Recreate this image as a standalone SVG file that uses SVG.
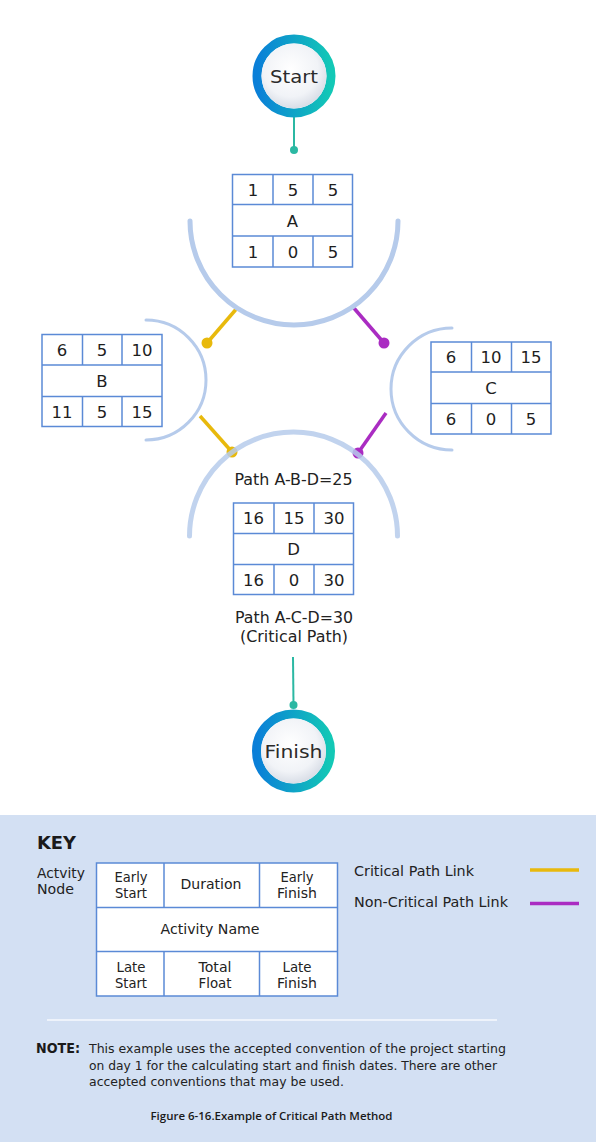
<svg xmlns="http://www.w3.org/2000/svg" width="596" height="1142" viewBox="0 0 596 1142">
<defs>
<linearGradient id="ring" x1="0" y1="0" x2="1" y2="0">
<stop offset="0" stop-color="#0a7fd8"/>
<stop offset="1" stop-color="#13c8b6"/>
</linearGradient>
<radialGradient id="face" cx="0.45" cy="0.4" r="0.6">
<stop offset="0" stop-color="#ffffff"/>
<stop offset="0.7" stop-color="#f1f3f7"/>
<stop offset="1" stop-color="#d9dee7"/>
</radialGradient>
<style>
.cell{fill:#ffffff;stroke:#5b8ad6;stroke-width:1.5}
.grid{stroke:#5b8ad6;stroke-width:1.5;fill:none}
.num{font-family:"DejaVu Sans","Open Sans",sans-serif;font-size:16.5px;fill:#1e1e1e;text-anchor:middle}
.big{stroke:#b6cbeb;stroke-width:5;fill:none;stroke-linecap:round}
.small{stroke:#b6cbeb;stroke-width:3;fill:none;stroke-linecap:round}
.crit{stroke:#e8b90c;stroke-width:3.5;fill:none}
.ncrit{stroke:#aa2cc2;stroke-width:3.5;fill:none}
.teal{stroke:#2bb8a3;stroke-width:2;fill:none}
.lbl{font-family:"DejaVu Sans","Open Sans",sans-serif;font-size:15px;fill:#222;text-anchor:middle}
.ktxt{font-family:"DejaVu Sans","Open Sans",sans-serif;font-size:13.5px;fill:#222}
.note{font-family:"DejaVu Sans","Open Sans",sans-serif;font-size:13px;fill:#222}
.kc{text-anchor:middle}
.circ{font-family:"DejaVu Sans","Open Sans",sans-serif;font-size:17.5px;fill:#2b2b2b;text-anchor:middle}
.bold{font-family:"DejaVu Sans","Open Sans",sans-serif;font-weight:bold;fill:#1a1a1a}
</style>
</defs>
<rect x="0" y="0" width="596" height="1142" fill="#ffffff"/>
<rect x="0" y="815" width="596" height="327" fill="#d3e0f3"/>

<g id="connectors">
<line class="teal" x1="294" y1="116" x2="294" y2="150"/>
<circle cx="294" cy="150" r="4" fill="#2bb8a3"/>
<line class="crit" x1="238" y1="307" x2="207" y2="343"/>
<circle cx="207" cy="343" r="5.5" fill="#e8b90c"/>
<line class="crit" x1="200" y1="416" x2="232" y2="452"/>
<circle cx="232" cy="452" r="5.5" fill="#e8b90c"/>
<line class="ncrit" x1="353" y1="307" x2="384" y2="343"/>
<circle cx="384" cy="343" r="5.5" fill="#aa2cc2"/>
<line class="ncrit" x1="386" y1="413" x2="358" y2="453"/>
<circle cx="358" cy="453" r="5.5" fill="#aa2cc2"/>
<line class="teal" x1="293" y1="657" x2="293.5" y2="705"/>
<circle cx="293.5" cy="705" r="4" fill="#2bb8a3"/>
</g>

<g id="start">
<circle cx="294" cy="76" r="37" fill="none" stroke="url(#ring)" stroke-width="9"/>
<circle cx="294" cy="76" r="32.5" fill="url(#face)"/>
<text class="circ" x="294" y="82.5" textLength="48" lengthAdjust="spacingAndGlyphs">Start</text>
</g>

<g id="nodeA">
<path class="big" d="M190,221 A104,104 0 0 0 398,221"/>
<rect class="cell" x="232.5" y="174.5" width="120" height="92.5"/>
<path class="grid" d="M232.5,204.5H352.5M232.5,236H352.5M273,174.5V204.5M313,174.5V204.5M273,236V267M313,236V267"/>
<text class="num" x="253" y="196">1</text><text class="num" x="293" y="196">5</text><text class="num" x="333" y="196">5</text>
<text class="num" x="292.5" y="227">A</text>
<text class="num" x="253" y="258">1</text><text class="num" x="293" y="258">0</text><text class="num" x="333" y="258">5</text>
</g>

<g id="nodeB">
<path class="small" d="M146,320 A60,60 0 0 1 146,440"/>
<rect class="cell" x="42" y="334.5" width="120" height="92"/>
<path class="grid" d="M42,365H162M42,396.5H162M82.5,334.5V365M122,334.5V365M82.5,396.5V426.5M122,396.5V426.5"/>
<text class="num" x="62" y="356">6</text><text class="num" x="102" y="356">5</text><text class="num" x="142" y="356">10</text>
<text class="num" x="102" y="387">B</text>
<text class="num" x="62" y="418">11</text><text class="num" x="102" y="418">5</text><text class="num" x="142" y="418">15</text>
</g>

<g id="nodeC">
<path class="small" d="M452,328 A61,61 0 0 0 452,450"/>
<rect class="cell" x="431" y="342" width="120" height="92"/>
<path class="grid" d="M431,372H551M431,403.5H551M471.5,342V372M511.5,342V372M471.5,403.5V434M511.5,403.5V434"/>
<text class="num" x="451" y="363">6</text><text class="num" x="491" y="363">10</text><text class="num" x="531" y="363">15</text>
<text class="num" x="491" y="394">C</text>
<text class="num" x="451" y="425">6</text><text class="num" x="491" y="425">0</text><text class="num" x="531" y="425">5</text>
</g>

<g id="nodeD">
<path class="big" d="M189.5,536 A104,104 0 0 1 397.5,536" stroke-opacity="0.85"/>
<text class="lbl" x="293.5" y="485" textLength="118" lengthAdjust="spacingAndGlyphs">Path A-B-D=25</text>
<rect class="cell" x="233.5" y="503" width="120" height="91.5"/>
<path class="grid" d="M233.5,533.5H353.5M233.5,564.5H353.5M274,503V533.5M314,503V533.5M274,564.5V594.5M314,564.5V594.5"/>
<text class="num" x="253.5" y="524">16</text><text class="num" x="294" y="524">15</text><text class="num" x="334" y="524">30</text>
<text class="num" x="293.5" y="555">D</text>
<text class="num" x="253.5" y="586">16</text><text class="num" x="294" y="586">0</text><text class="num" x="334" y="586">30</text>
<text class="lbl" x="294" y="623" textLength="118" lengthAdjust="spacingAndGlyphs">Path A-C-D=30</text>
<text class="lbl" x="294" y="642" textLength="108" lengthAdjust="spacingAndGlyphs">(Critical Path)</text>
</g>

<g id="finish">
<circle cx="293.5" cy="751" r="37" fill="none" stroke="url(#ring)" stroke-width="9"/>
<circle cx="293.5" cy="751" r="32.5" fill="url(#face)"/>
<text class="circ" x="293.5" y="758" textLength="58" lengthAdjust="spacingAndGlyphs">Finish</text>
</g>

<g id="key">
<text class="bold" x="37" y="849" font-size="18" textLength="39" lengthAdjust="spacingAndGlyphs">KEY</text>
<text class="ktxt" x="37" y="878" textLength="48" lengthAdjust="spacingAndGlyphs">Actvity</text>
<text class="ktxt" x="37" y="894" textLength="37" lengthAdjust="spacingAndGlyphs">Node</text>
<rect class="cell" x="96.5" y="863" width="241" height="133"/>
<path class="grid" d="M96.5,907.5H337.5M96.5,951.5H337.5M164,863V907.5M259.5,863V907.5M164,951.5V996M259.5,951.5V996"/>
<text class="ktxt kc" x="131" y="882" textLength="33" lengthAdjust="spacingAndGlyphs">Early</text><text class="ktxt kc" x="131" y="898" textLength="32" lengthAdjust="spacingAndGlyphs">Start</text>
<text class="ktxt kc" x="211" y="889" textLength="61" lengthAdjust="spacingAndGlyphs">Duration</text>
<text class="ktxt kc" x="297" y="882" textLength="33" lengthAdjust="spacingAndGlyphs">Early</text><text class="ktxt kc" x="297" y="898" textLength="40" lengthAdjust="spacingAndGlyphs">Finish</text>
<text class="ktxt kc" x="210" y="934" textLength="99" lengthAdjust="spacingAndGlyphs">Activity Name</text>
<text class="ktxt kc" x="131" y="972" textLength="29" lengthAdjust="spacingAndGlyphs">Late</text><text class="ktxt kc" x="131" y="988" textLength="32" lengthAdjust="spacingAndGlyphs">Start</text>
<text class="ktxt kc" x="215" y="972" textLength="33" lengthAdjust="spacingAndGlyphs">Total</text><text class="ktxt kc" x="215" y="988" textLength="33" lengthAdjust="spacingAndGlyphs">Float</text>
<text class="ktxt kc" x="297" y="972" textLength="29" lengthAdjust="spacingAndGlyphs">Late</text><text class="ktxt kc" x="297" y="988" textLength="40" lengthAdjust="spacingAndGlyphs">Finish</text>
<text class="ktxt" x="354" y="876" textLength="120" lengthAdjust="spacingAndGlyphs">Critical Path Link</text>
<line class="crit" x1="530" y1="870" x2="579" y2="870"/>
<text class="ktxt" x="354" y="907" textLength="154" lengthAdjust="spacingAndGlyphs">Non-Critical Path Link</text>
<line class="ncrit" x1="530" y1="903.5" x2="579" y2="903.5"/>
<line x1="47" y1="1020" x2="497" y2="1020" stroke="#eef3fb" stroke-width="2"/>
<text class="bold" x="36" y="1053" font-size="13.5" textLength="44" lengthAdjust="spacingAndGlyphs">NOTE:</text>
<text class="note" x="89" y="1053" textLength="417" lengthAdjust="spacingAndGlyphs">This example uses the accepted convention of the project starting</text>
<text class="note" x="89" y="1070" textLength="408" lengthAdjust="spacingAndGlyphs">on day 1 for the calculating start and finish dates. There are other</text>
<text class="note" x="89" y="1086" textLength="255" lengthAdjust="spacingAndGlyphs">accepted conventions that may be used.</text>
<text x="271.5" y="1120" font-family="Open Sans, Liberation Sans, sans-serif" font-size="11.5" font-weight="600" fill="#1a1a1a" text-anchor="middle" textLength="242" lengthAdjust="spacingAndGlyphs">Figure 6-16.Example of Critical Path Method</text>
</g>
</svg>
